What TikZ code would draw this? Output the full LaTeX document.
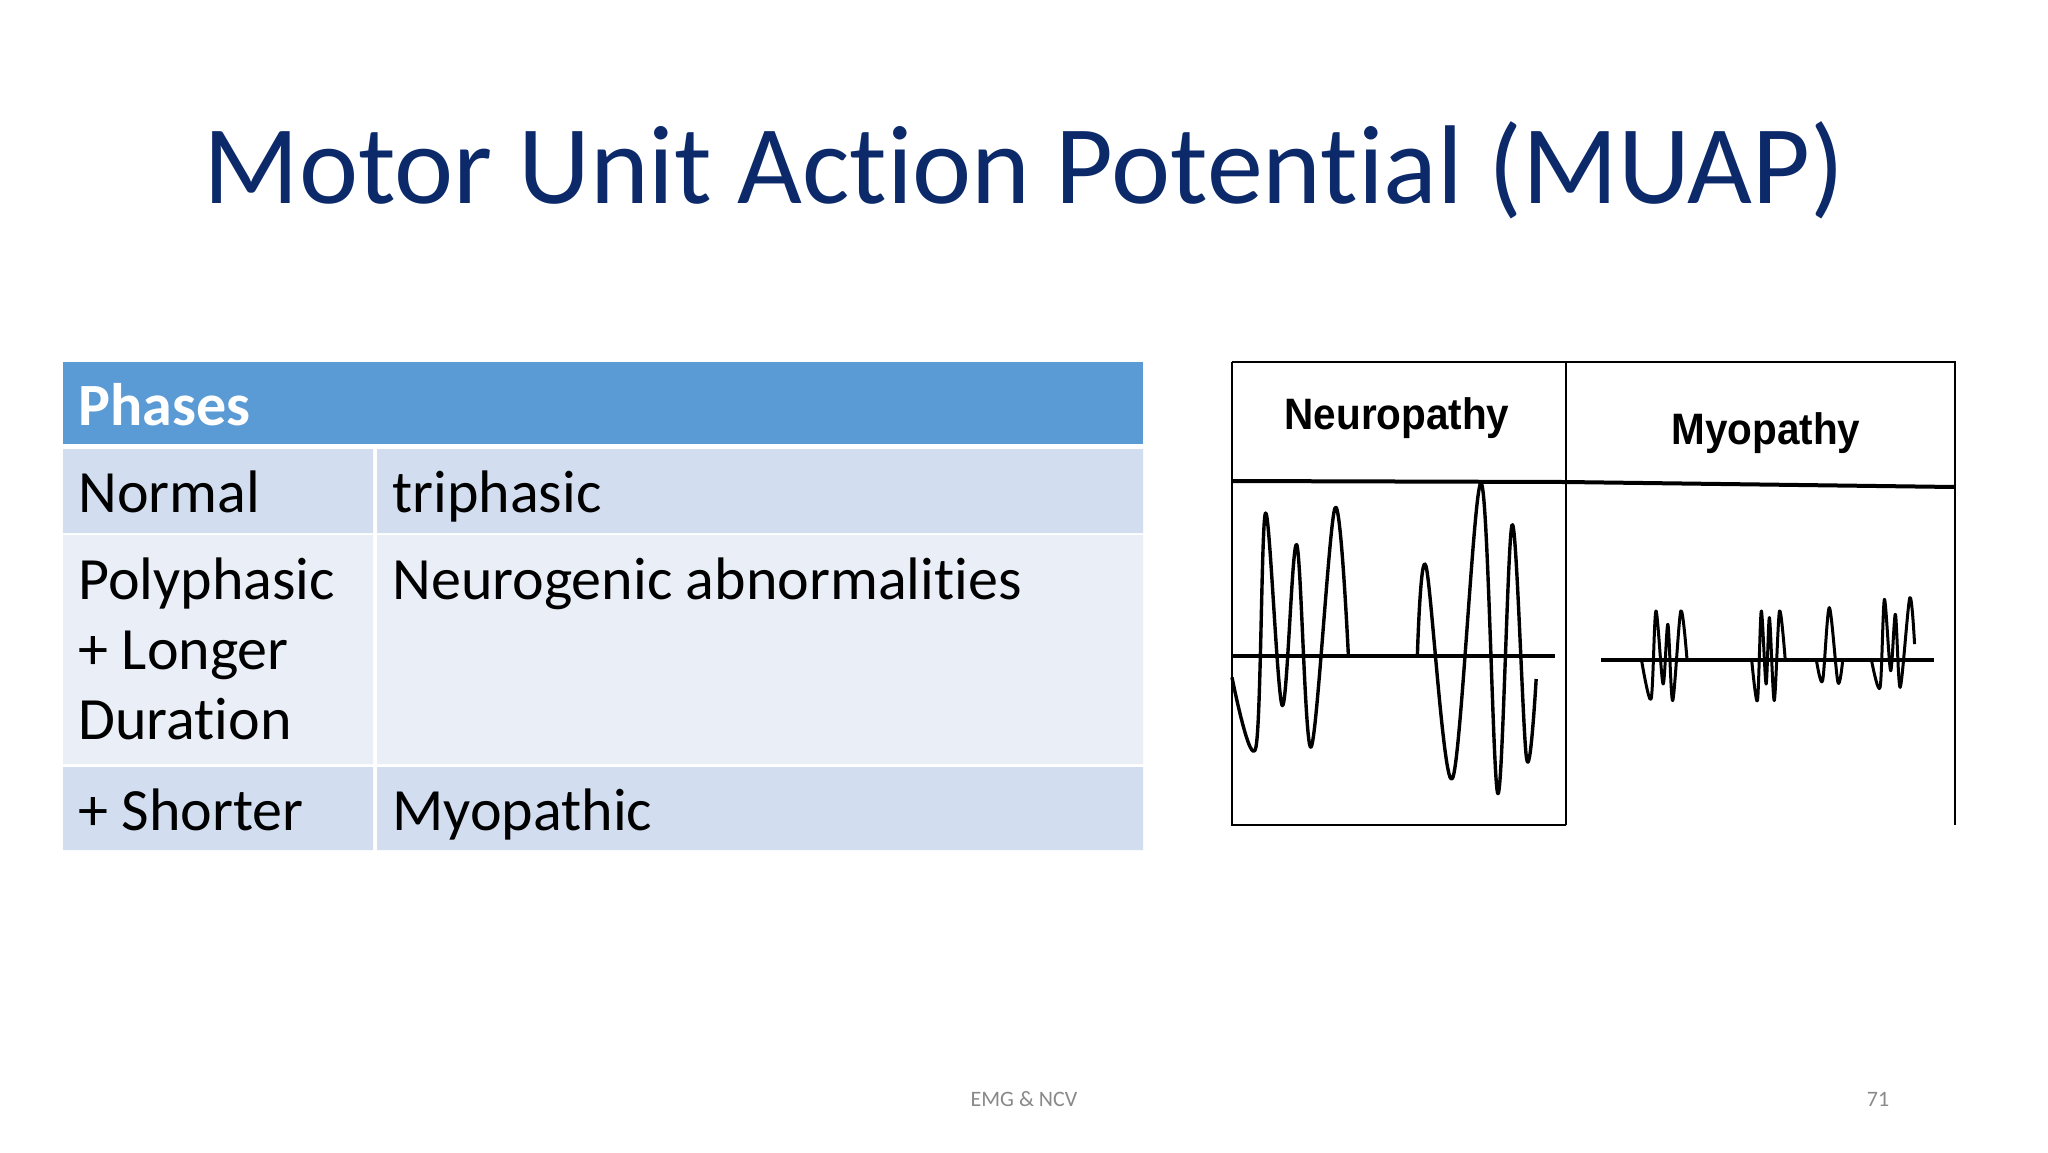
\documentclass[tikz,border=0pt]{standalone}
\usepackage{fontspec}
\setmainfont{Carlito}[Ligatures=NoCommon]
\newfontfamily\arialf{Liberation Sans}
\begin{document}
\begin{tikzpicture}[x=0.5pt,y=-0.5pt,
  cell/.style={anchor=north west,inner sep=0pt,font=\fontsize{30}{35}\selectfont,text=black,align=left},
  wave/.style={line width=1.7pt,line join=round},
  frame/.style={line width=1.4pt}]
\useasboundingbox (0,0) rectangle (2048,1152);
\fill[white] (0,0) rectangle (2048,1152);
\node (title) at (1024,170) {\fontsize{56}{62}\selectfont\color[HTML]{0C2A6A}Motor Unit Action Potential (MUAP)};
% table
\fill[fill={rgb,255:red,91;green,155;blue,213}] (63,362) rectangle (1143,444);
\fill[fill={rgb,255:red,210;green,222;blue,239}] (63,449) rectangle (373,533) (377,449) rectangle (1143,533);
\fill[fill={rgb,255:red,234;green,239;blue,247}] (63,535) rectangle (373,764) (377,535) rectangle (1143,764);
\fill[fill={rgb,255:red,210;green,222;blue,239}] (63,767) rectangle (373,850) (377,767) rectangle (1143,850);
\node[cell,text=white,font=\fontsize{30}{35}\selectfont\bfseries] (h) at (78,383) {Phases};
\node[cell] (a1) at (78,470) {Normal};
\node[cell] (b1) at (392,470) {triphasic};
\node[cell] (a2) at (78,557) {Polyphasic\\+ Longer\\Duration};
\node[cell] (b2) at (392,557) {Neurogenic abnormalities};
\node[cell] (a3) at (78,788) {+ Shorter};
\node[cell] (b3) at (392,788) {Myopathic};
% figure
\draw[frame] (1232,362) -- (1955,362) -- (1955,825);
\draw[frame] (1232,362) -- (1232,825) -- (1566,825);
\draw[frame] (1566,362) -- (1566,825);
\draw[line width=2pt] (1232,481) -- (1566,482) -- (1955,487);
\node[font=\arialf\bfseries\fontsize{22}{25}\selectfont,xscale=0.92] (neu) at (1397,418) {Neuropathy};
\node[font=\arialf\bfseries\fontsize{22}{25}\selectfont,xscale=0.92] (myo) at (1766,433) {Myopathy};
\begin{scope}[shift={(1220,352)},x=0.2395pt,y=-0.166pt]
\draw[line width=2pt] (25,915) -- (700,915);
\draw[wave] plot[smooth,tension=0.55] coordinates {(25,980) (75,1190) (95,485) (130,1065) (160,580) (190,1190) (240,470) (268,915)};
\draw[wave] plot[smooth,tension=0.55] coordinates {(412,915) (430,645) (485,1285) (545,395) (580,1330) (610,520) (640,1225) (660,985)};
\draw[line width=2pt] (795,928) -- (1490,928);
\draw[wave,line width=1.5pt] plot[smooth,tension=0.5] coordinates {(880,928) (900,1045) (910,780) (925,1000) (935,820) (945,1050) (962,780) (975,928)};
\draw[wave,line width=1.5pt] plot[smooth,tension=0.5] coordinates {(1110,928) (1122,1050) (1130,780) (1140,1000) (1147,800) (1157,1050) (1168,780) (1180,928)};
\draw[wave,line width=1.5pt] plot[smooth,tension=0.5] coordinates {(1245,928) (1258,990) (1272,770) (1290,995) (1300,928)};
\draw[wave,line width=1.5pt] plot[smooth,tension=0.5] coordinates {(1360,928) (1378,1010) (1387,745) (1400,960) (1410,790) (1420,1010) (1440,740) (1450,880)};
\end{scope}
% footer
\node[text={rgb,255:red,137;green,137;blue,137},font=\fontsize{11}{12}\selectfont] (foot) at (1024,1099) {EMG \& NCV};
\node[text={rgb,255:red,137;green,137;blue,137},font=\fontsize{11}{12}\selectfont] (num) at (1878,1099) {71};
\end{tikzpicture}
\end{document}
